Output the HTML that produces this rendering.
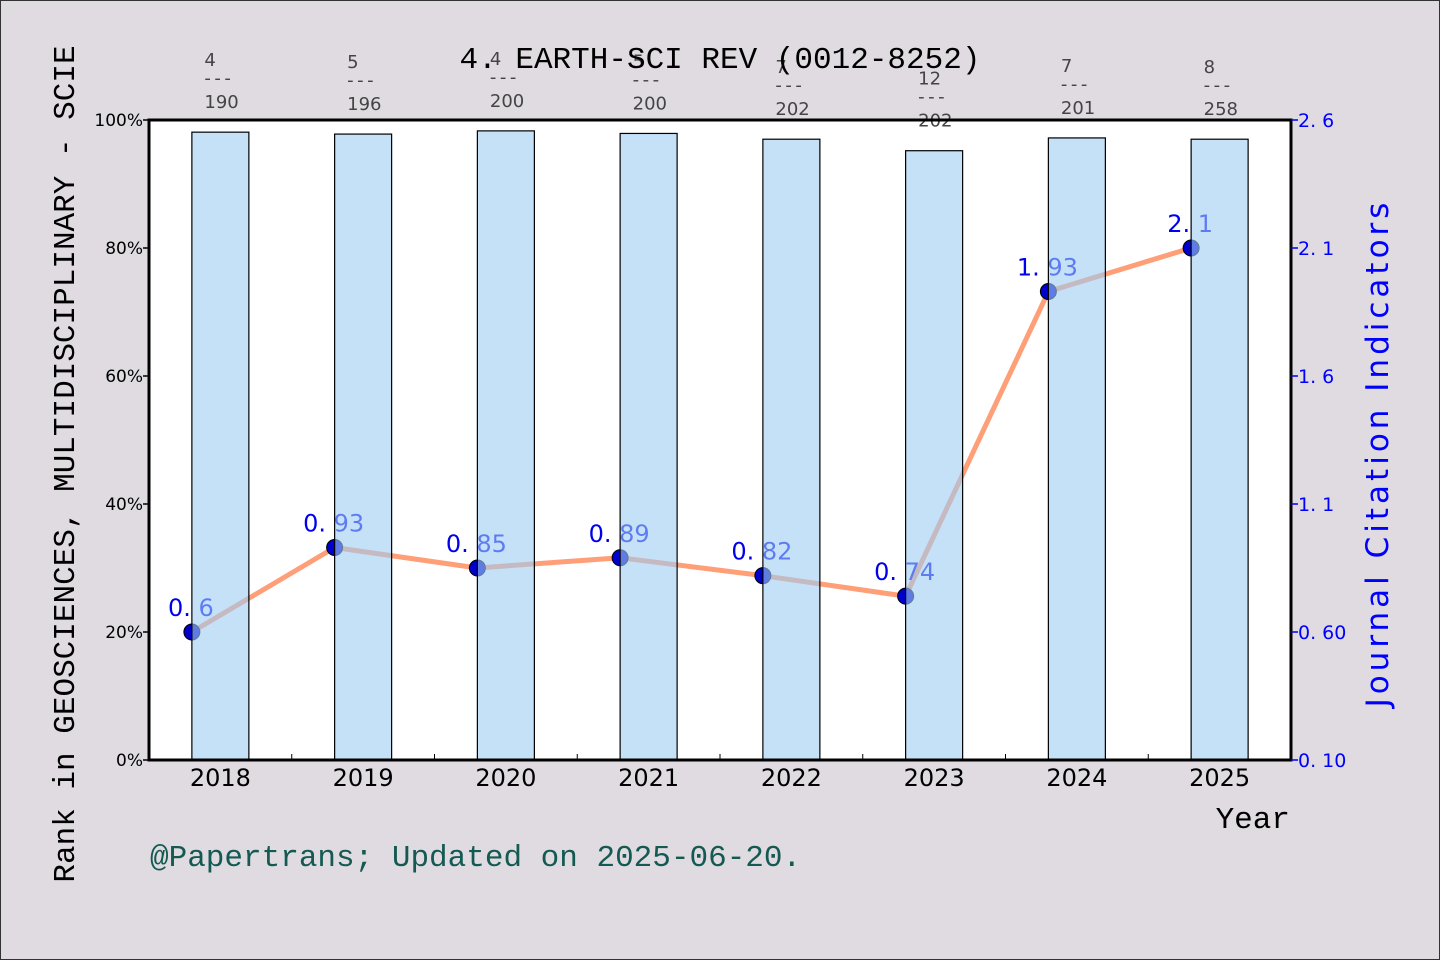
<!DOCTYPE html>
<html><head><meta charset="utf-8"><style>
body{margin:0;background:#dfdbe1;}
svg{display:block;}
</style></head><body>
<svg id="chart" width="1440" height="960" xmlns="http://www.w3.org/2000/svg">
<rect x="0.5" y="0.5" width="1439" height="959" fill="#dfdbe1" stroke="#333" stroke-width="1"/>
<rect x="149" y="120" width="1142" height="640" fill="#fff"/>
<g id="lineLayer"></g>
<g id="barLayer"></g>
<g id="annLayer"></g>
<rect x="149" y="120" width="1142" height="640" fill="none" stroke="#000" stroke-width="3"/>
<g id="axisLayer"></g>
<text x="720" y="68" text-anchor="middle" font-family="Liberation Mono, monospace" font-size="31" fill="#000">4. EARTH-SCI REV (0012-8252)</text>
<text transform="translate(74,464) rotate(-90)" text-anchor="middle" font-family="Liberation Mono, monospace" font-size="31" fill="#000">Rank in GEOSCIENCES, MULTIDISCIPLINARY - SCIE</text>
<text transform="translate(1388,453) rotate(-90)" text-anchor="middle" font-family="DejaVu Sans, sans-serif" font-size="31" fill="#0000ff" letter-spacing="4">Journal Citation Indicators</text>
<text x="1290" y="828" text-anchor="end" font-family="Liberation Mono, monospace" font-size="31" fill="#000">Year</text>
<text x="150" y="866" font-family="Liberation Mono, monospace" font-size="31" fill="#145a52">@Papertrans; Updated on 2025-06-20.</text>
</svg>
<script>
const years=["2018","2019","2020","2021","2022","2023","2024","2025"];
const ranks=[4,5,4,5,7,12,7,8];
const totals=[190,196,200,200,202,202,201,258];
const rankPercent=[98.1,97.8,98.3,97.9,97.0,95.2,97.2,97.0];
const jci=[0.6,0.93,0.85,0.89,0.82,0.74,1.93,2.1];
const jciLabels=["0.6","0.93","0.85","0.89","0.82","0.74","1.93","2.1"];
const leftTicks=[0,20,40,60,80,100];
const rightTicks=[0.10,0.60,1.1,1.6,2.1,2.6];
const rightTickLabels=["0.10","0.60","1.1","1.6","2.1","2.6"];

const NS="http://www.w3.org/2000/svg";
const X0=149,X1=1291,Y0=760,Y1=120;
const band=(X1-X0)/years.length;
const xc=i=>X0+band*(i+0.5);
const yL=v=>Y0-(v/100)*(Y0-Y1);
const yR=v=>Y0-((v-0.10)/2.5)*(Y0-Y1);
function mk(tag,attrs,parent){const e=document.createElementNS(NS,tag);for(const k in attrs)e.setAttribute(k,attrs[k]);parent.appendChild(e);return e;}
const lineL=document.getElementById('lineLayer'),barL=document.getElementById('barLayer'),annL=document.getElementById('annLayer'),axL=document.getElementById('axisLayer');
const bw=57;
let pts=jci.map((v,i)=>(xc(i)-bw/2)+","+yR(v)).join(" ");
const pl=mk('polyline',{points:pts,fill:'none',stroke:'#ff9f78','stroke-width':5,'stroke-linejoin':'round'},lineL);


jci.forEach((v,i)=>{
  const px=xc(i)-bw/2,py=yR(v);
  const c=mk('circle',{cx:px,cy:py,r:8,fill:'#0000cc',stroke:'#000','stroke-width':1},lineL);
  
  
  const t=mk('text',{x:px-1,y:py-16,'text-anchor':'middle','font-family':'DejaVu Sans, sans-serif','font-size':24,fill:'#0000ee'},lineL);
  t.textContent=jciLabels[i].replace('.','. ');
  
  
});
years.forEach((y,i)=>{
  const top=yL(rankPercent[i]);
  const r=mk('rect',{x:xc(i)-bw/2,y:top,width:bw,height:Y0-top,fill:'rgba(159,205,243,0.6)',stroke:'#000','stroke-width':1.2},barL);
  
  
  const g=mk('g',{},annL);
  
  
  const ax=xc(i)-16;
  const t1=mk('text',{x:ax,y:top-66,'font-family':'DejaVu Sans, sans-serif','font-size':18,fill:'#444'},g);t1.textContent=ranks[i];
  const t2=mk('text',{x:ax,y:top-48,'font-family':'DejaVu Sans, sans-serif','font-size':18,fill:'#444','letter-spacing':'3.5'},g);t2.textContent='---';
  const t3=mk('text',{x:ax,y:top-24,'font-family':'DejaVu Sans, sans-serif','font-size':18,fill:'#444'},g);t3.textContent=totals[i];
  const xl=mk('text',{x:xc(i),y:786,'text-anchor':'middle','font-family':'DejaVu Sans, sans-serif','font-size':24,fill:'#000'},axL);
  xl.textContent=y;
  
  
  if(i>0){mk('line',{x1:X0+band*i,x2:X0+band*i,y1:Y0,y2:Y0-6,stroke:'#000','stroke-width':1},axL);}
});
leftTicks.forEach(v=>{
  mk('line',{x1:X0-6,x2:X0,y1:yL(v),y2:yL(v),stroke:'#000','stroke-width':1.5},axL);
  const t=mk('text',{x:X0-6,y:yL(v)+6,'text-anchor':'end','font-family':'DejaVu Sans, sans-serif','font-size':17,fill:'#000'},axL);
  t.textContent=v+'%';
  
  
});
rightTicks.forEach((v,i)=>{
  mk('line',{x1:X1,x2:X1+7,y1:yR(v),y2:yR(v),stroke:'#0000ff','stroke-width':1.5},axL);
  const t=mk('text',{x:X1+7,y:yR(v)+7,'font-family':'DejaVu Sans, sans-serif','font-size':19,fill:'#0000ff'},axL);
  t.textContent=rightTickLabels[i].replace('.','. ');
  
  
});
</script>
</body></html>
